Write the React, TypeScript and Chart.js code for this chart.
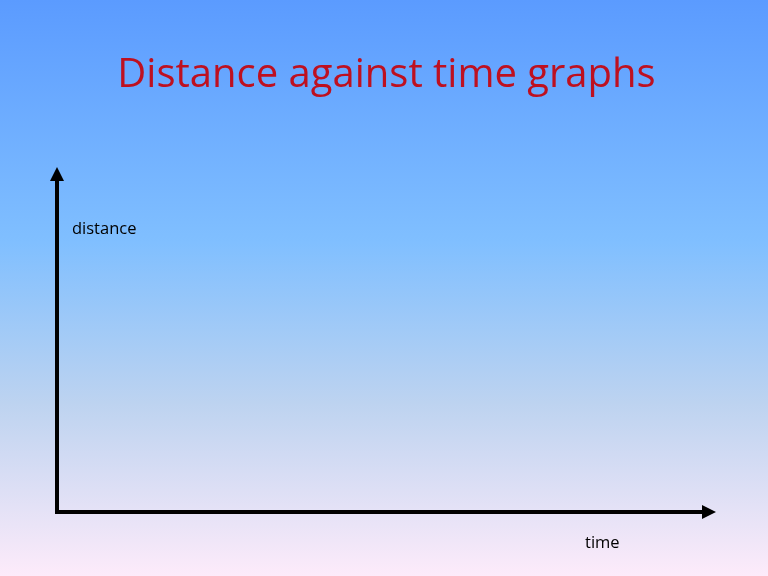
import React, { useEffect, useRef } from "react";
import { Chart, registerables } from "chart.js";

Chart.register(...registerables);

const titleText = "Distance against time graphs";
const xAxisLabel = "time";
const yAxisLabel = "distance";
const xRange = [0, 10];
const yRange = [0, 10];
const points: { x: number; y: number }[] = [];

const axesPlugin = {
  id: "slideAxes",
  beforeDraw(chart: any) {
    const { ctx, width, height } = chart;
    const g = ctx.createLinearGradient(0, 0, 0, height);
    g.addColorStop(0, "#5B9BFF");
    g.addColorStop(0.42, "#80BFFF");
    g.addColorStop(0.7, "#BDD3F0");
    g.addColorStop(1, "#FDEBFA");
    ctx.save();
    ctx.fillStyle = g;
    ctx.fillRect(0, 0, width, height);
    ctx.restore();
  },
  afterDraw(chart: any) {
    const { ctx, chartArea } = chart;
    const { left, right, top, bottom } = chartArea;
    ctx.save();
    ctx.strokeStyle = "#000";
    ctx.fillStyle = "#000";
    ctx.lineWidth = 4;
    ctx.lineCap = "butt";
    // y axis
    ctx.beginPath();
    ctx.moveTo(left, bottom + 2);
    ctx.lineTo(left, top + 10);
    ctx.stroke();
    // x axis
    ctx.beginPath();
    ctx.moveTo(left - 2, bottom);
    ctx.lineTo(right - 10, bottom);
    ctx.stroke();
    // arrowheads
    ctx.beginPath();
    ctx.moveTo(left, top);
    ctx.lineTo(left - 7, top + 14);
    ctx.lineTo(left + 7, top + 14);
    ctx.closePath();
    ctx.fill();
    ctx.beginPath();
    ctx.moveTo(right, bottom);
    ctx.lineTo(right - 14, bottom - 7);
    ctx.lineTo(right - 14, bottom + 7);
    ctx.closePath();
    ctx.fill();
    // labels
    ctx.font = "16.5px 'Open Sans', sans-serif";
    ctx.fillStyle = "#000";
    ctx.textBaseline = "middle";
    ctx.textAlign = "left";
    ctx.fillText(yAxisLabel, left + 15, top + 62);
    ctx.fillText(xAxisLabel, right - 131, bottom + 31);
    ctx.restore();
  },
};

export default function App() {
  const ref = useRef<HTMLCanvasElement>(null);
  useEffect(() => {
    document.body.style.margin = "0";
    const chart = new Chart(ref.current!, {
      type: "scatter",
      data: { datasets: [{ data: points, pointRadius: 0 }] },
      options: {
        animation: false,
        responsive: false,
        layout: { padding: { left: 57, right: 52, bottom: 64, top: 0 } },
        scales: {
          x: { display: false, min: xRange[0], max: xRange[1] },
          y: { display: false, min: yRange[0], max: yRange[1] },
        },
        plugins: {
          legend: { display: false },
          tooltip: { enabled: false },
          title: {
            display: true,
            text: titleText,
            color: "#BE1020",
            font: { family: "'Open Sans', sans-serif", size: 40, weight: "normal" },
            padding: { top: 52, bottom: 67 },
          },
        },
      },
      plugins: [axesPlugin],
    });
    return () => chart.destroy();
  }, []);
  return <canvas ref={ref} width={768} height={576} style={{ display: "block" }} />;
}
